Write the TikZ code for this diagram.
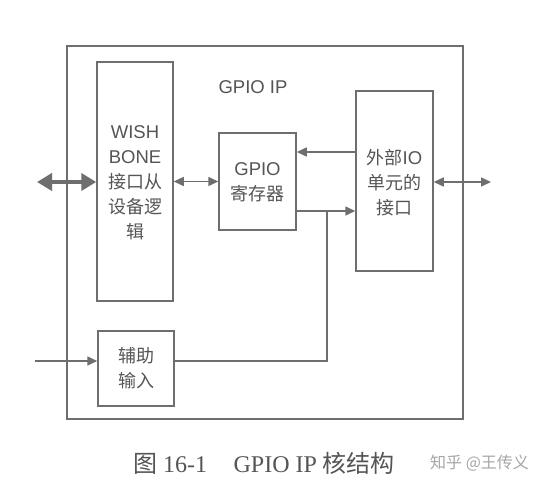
\documentclass[tikz,border=0pt]{standalone}
\usepackage{fontspec}
\setmainfont{Liberation Serif}
\setsansfont{Liberation Sans}
\newfontfamily\cjk{Noto Sans CJK SC}
\usetikzlibrary{arrows.meta}
\definecolor{ln}{HTML}{6E6E6E}
\definecolor{tx}{HTML}{555555}
\newcommand{\zh}[1]{{\cjk\fontsize{18}{25}\selectfont #1}}
\tikzset{
  box/.style={draw=ln, line width=1.5pt, minimum width=#1, inner sep=0pt},
  lbl/.style={text=tx, font=\sffamily\fontsize{18.5}{25}\selectfont, align=center},
  con/.style={draw=ln, line width=1.5pt},
  arr/.style={-{Triangle[length=10pt,width=9pt]}},
  darr/.style={{Triangle[length=10pt,width=9pt]}-{Triangle[length=10pt,width=9pt]}},
  bigarr/.style={{Triangle[length=15pt,width=17pt]}-{Triangle[length=15pt,width=17pt]}, line width=4.5pt}
}
\begin{document}
\begin{tikzpicture}[x=1pt,y=-1pt]
\useasboundingbox[fill=white] (0,0) rectangle (551,486);
% outer frame
\node[draw=ln, line width=1.5pt, minimum width=396pt, minimum height=373pt, inner sep=0pt] (frame) at (265,232.5) {};
\node[lbl] (title) at (253,87) {GPIO IP};
% boxes
\node[box=76pt, minimum height=239pt] (wb) at (135,181.5) {};
\node[lbl] (wbt) at (135,183) {WISH\\BONE\\\zh{接口从}\\\zh{设备逻}\\\zh{辑}};
\node[box=77pt, minimum height=97pt] (reg) at (257.5,181.5) {};
\node[lbl] (regt) at (257.5,182) {GPIO\\\zh{寄存器}};
\node[box=77pt, minimum height=180pt] (io) at (394.5,181) {};
\node[lbl] (iot) at (394.5,183) {\zh{外部}IO\\\zh{单元的}\\\zh{接口}};
\node[box=76pt, minimum height=75pt] (aux) at (136,368.5) {};
\node[lbl] (auxt) at (136,368.5) {\zh{辅助}\\\zh{输入}};
% coordinates
\coordinate (lin) at (37,182);
\coordinate (rout) at (491,182);
\coordinate (ain) at (35,361);
\coordinate (j) at (327,211);
% connectors
\draw[con, bigarr] (lin) -- (lin -| wb.west);
\draw[con, darr] (wb.east |- reg.west) -- (reg.west);
\draw[con, darr] (io.east |- rout) -- (rout);
\draw[con, arr] (io.west |- 0,152) -- (reg.east |- 0,152);
\draw[con, arr] (reg.east |- j) -- (io.west |- j);
\draw[con, arr] (ain) -- (ain -| aux.west);
\draw[con] (aux.east |- ain) -| (j);
% caption
\node[text=tx, anchor=west, inner sep=0pt] (cap) at (133,463) {\fontsize{24}{28}\selectfont{\cjk 图} 16-1\hspace{1.1em}GPIO IP {\cjk 核结构}};
\node[text=black!35, anchor=west, inner sep=0pt] (wm) at (430,463) {\fontsize{16}{18}\selectfont\cjk 知乎 @王传义};
\end{tikzpicture}
\end{document}
